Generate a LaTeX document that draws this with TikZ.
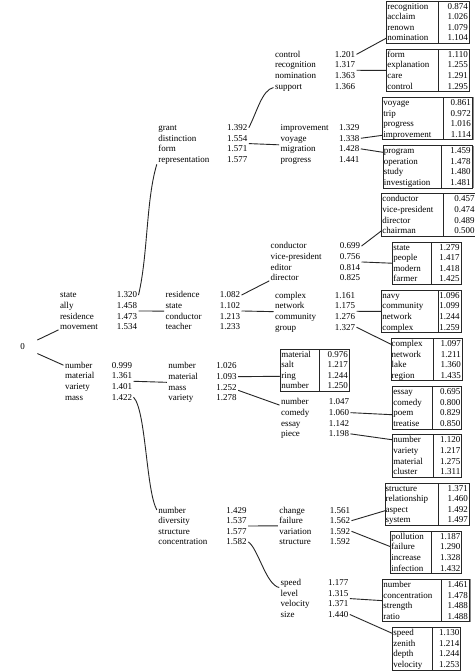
\documentclass[tikz,border=0pt]{standalone}
\usepackage{fontspec}
\setmainfont{Liberation Serif}
\usetikzlibrary{calc}
\tikzset{
 txt/.style={font=\fontsize{9}{10}\selectfont, inner xsep=1.5pt, inner ysep=0pt, outer sep=0pt, text=black},
 btxt/.style={font=\fontsize{9}{10}\selectfont, inner xsep=0.6pt, inner ysep=0pt, outer sep=0pt, text=black},
 ln/.style={line width=0.9pt, black!85},
 dv/.style={line width=0.9pt, black!85},
 shade/.style={line width=1.3pt, black!45},
 frame/.style={draw=black!85, line width=0.9pt, inner sep=0pt, outer sep=0pt, anchor=north west, minimum height=42.5pt},
}
\newcommand\grp[5]{%
 \foreach \w/\n [count=\i] in {#5}{%
  \node[txt, anchor=mid west] (#1-w\i) at (#2-1.5, {#4+10.6*(\i-1)}) {\w};
  \node[txt, anchor=mid east] (#1-n\i) at (#3+1.5, {#4+10.6*(\i-1)}) {\n};
 }
 \coordinate (#1-r) at ($(#1-n2.east)!0.5!(#1-n3.east)$);
 \coordinate (#1-l) at ($(#1-w2.west)!0.5!(#1-w3.west)$);
}
\newcommand\tbl[6]{%
 \node[frame, minimum width={#4pt-#2pt}] (#1) at (#2,#5) {};
 \draw[dv] (#3,#5) -- (#3,#5+42.5);
 \foreach \w/\n [count=\i] in {#6}{%
  \node[btxt, anchor=mid west] (#1-w\i) at (#2, {#5+5.8+10.6*(\i-1)}) {\w};
  \node[btxt, anchor=mid east] (#1-n\i) at (#4-0.8, {#5+5.8+10.6*(\i-1)}) {\n};
 }}
\begin{document}
\begin{tikzpicture}[x=1pt,y=-1pt]
\fill[white] (0,0) rectangle (474,671);
\useasboundingbox (0,0) rectangle (474,671);

% boxes
\tbl{b1}{386.7}{438.3}{469.3}{1}{recognition/0.874, acclaim/1.026, renown/1.079, nomination/1.104}
\tbl{b2}{386.7}{438.3}{469.3}{49.2}{form/1.110, explanation/1.255, care/1.291, control/1.295}
\tbl{b3}{382.7}{443.3}{472.3}{97.4}{voyage/0.861, trip/0.972, progress/1.016, improvement/1.114}
\tbl{b4}{383.3}{441}{472}{145.6}{program/1.459, operation/1.478, study/1.480, investigation/1.481}
\tbl{b5}{381.7}{443.3}{476}{193.8}{conductor/0.457, vice-president/0.474, director/0.489, chairman/0.500}
\tbl{b6}{392.7}{431.7}{461}{242}{state/1.279, people/1.417, modern/1.418, farmer/1.425}
\tbl{b7}{381.7}{438.3}{461}{290.2}{navy/1.096, community/1.099, network/1.244, complex/1.259}
\tbl{b8}{391}{433.3}{462.3}{338.4}{complex/1.097, network/1.211, lake/1.360, region/1.435}
\tbl{b9}{392.7}{432.7}{461.7}{386.6}{essay/0.695, comedy/0.800, poem/0.829, treatise/0.850}
\tbl{b10}{392.7}{433.3}{461.7}{434.8}{number/1.120, variety/1.217, material/1.275, cluster/1.311}
\tbl{b11}{385}{438.3}{469.3}{483}{structure/1.371, relationship/1.460, aspect/1.492, system/1.497}
\tbl{b12}{390.7}{431.7}{461.7}{531.2}{pollution/1.187, failure/1.290, increase/1.328, infection/1.432}
\tbl{b13}{382.7}{441.7}{469.3}{579.4}{number/1.461, concentration/1.478, strength/1.488, ratio/1.488}
\tbl{b14}{392.7}{432.7}{460.7}{627.6}{speed/1.130, zenith/1.214, depth/1.244, velocity/1.253}
\tbl{bm}{280.7}{319.3}{349.3}{349}{material/0.976, salt/1.217, ring/1.244, number/1.250}

% faint doubled right edges seen on some boxes
\draw[shade] ([xshift=1.4pt]b3.north east) -- ([xshift=1.4pt]b3.south east);
\draw[shade] ([xshift=1.4pt]b4.north east) -- ([xshift=1.4pt]b4.south east);
\draw[shade] ([xshift=1.4pt]b13.north east) -- ([xshift=1.4pt]b13.south east);

% text groups
\node[txt] (z) at (22.7,347) {0};
\grp{g1}{60}{137}{295.7}{state/1.320, ally/1.458, residence/1.473, movement/1.534}
\grp{g2}{65}{132}{366}{number/0.999, material/1.361, variety/1.401, mass/1.422}
\grp{g3}{158.3}{247.3}{128.3}{grant/1.392, distinction/1.554, form/1.571, representation/1.577}
\grp{g4}{165.7}{240}{295.7}{residence/1.082, state/1.102, conductor/1.213, teacher/1.233}
\grp{g5}{168.3}{236.7}{366.7}{number/1.026, material/1.093, mass/1.252, variety/1.278}
\grp{g6}{158.3}{246.7}{510.7}{number/1.429, diversity/1.537, structure/1.577, concentration/1.582}
\grp{g7}{275}{355}{55}{control/1.201, recognition/1.317, nomination/1.363, support/1.366}
\grp{g8}{280.7}{359.3}{128.3}{improvement/1.329, voyage/1.338, migration/1.428, progress/1.441}
\grp{g9}{270.7}{360}{246.7}{conductor/0.699, vice-president/0.756, editor/0.814, director/0.825}
\grp{g10}{275}{355}{296}{complex/1.161, network/1.175, community/1.276, group/1.327}
\grp{g11}{281}{349}{402.7}{number/1.047, comedy/1.060, essay/1.142, piece/1.198}
\grp{g12}{279.3}{350}{510.7}{change/1.561, failure/1.562, variation/1.592, structure/1.592}
\grp{g13}{280.7}{348.3}{583.3}{speed/1.177, level/1.315, velocity/1.371, size/1.440}

% connectors
\draw[ln, shorten <=12pt] (z) -- (g1-w4.south west);
\draw[ln, shorten <=12pt] (z) -- (g2-w1.west);
\draw[ln] (g1-n1.east) .. controls (148,255) and (146,200) .. (g3-w4.south west);
\draw[ln] (g1-r) -- (g4-l);
\draw[ln] (g4-n1.east) -- (g9-w4.south west);
\draw[ln] (g2-n4.east) .. controls (146,410) and (146,490) .. (g6-w1.west);
\draw[ln] (g2-r) -- (g5-l);
\draw[ln] (g3-n1.east) .. controls (257,112) and (262,90) .. (g7-w4.west);
\draw[ln] (g3-r) -- (g8-l);
\draw[ln] (g7-n1.east) -- (b1.west |- b1-w4);
\draw[ln] (g7-r) -- (b2.west);
\draw[ln] (g8-n2.east) -- (b3.west |- b3-w4);
\draw[ln] (g8-n3.east) -- (b4.west |- b4-w1);
\draw[ln] (g9-n1.east) -- (b5.west |- b5-w4);
\draw[ln] (g9-r) -- (b6.west);
\draw[ln] (g4-r) -- (g10-l);
\draw[ln] (g10-r) -- (b7.west);
\draw[ln] (g10-n4.east) -- (b8.west |- b8-w1);
\draw[ln] (g5-n2.east) -- (bm.west |- bm-w3);
\draw[ln] (g5-n3.south east) -- (g11-w1.south west);
\draw[ln] (g11-n2.east) -- (b9.west |- b9-w3);
\draw[ln] (g11-n4.east) -- (b10.west |- b10-w1);
\draw[ln] (g6-r) -- (g12-l);
\draw[ln] (g12-n2.east) -- (b11.west |- b11-w3);
\draw[ln] (g12-n3.east) -- (b12.west |- b12-w2);
\draw[ln] (g6-n4.east) .. controls (258,548) and (266,585) .. (g13-w1.south west);
\draw[ln] (g13-r) -- (b13.west);
\draw[ln] (g13-n4.east) -- (b14.west |- b14-w1);
\end{tikzpicture}
\end{document}
